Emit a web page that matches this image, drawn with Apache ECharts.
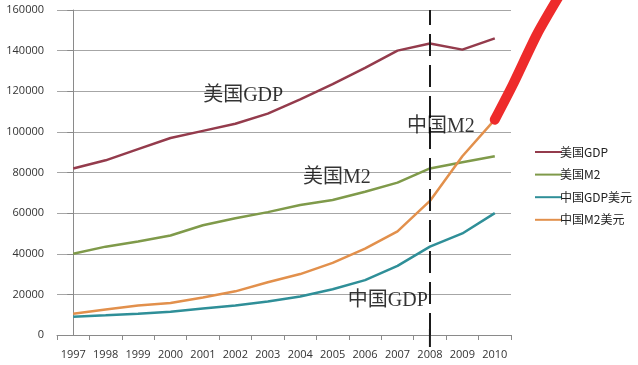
<!DOCTYPE html>
<html><head><meta charset="utf-8">
<script src="https://cdn.jsdelivr.net/npm/echarts@6/dist/echarts.min.js"></script>
<style>html,body{margin:0;padding:0;background:#fff}#c{width:638px;height:365px}</style>
</head><body><div id="c"></div>
<script>
const years = ['1997','1998','1999','2000','2001','2002','2003','2004','2005','2006','2007','2008','2009','2010'];
const usGDP = [82000,86000,91500,97000,100500,104000,109000,116000,123500,131500,140000,143500,140500,146000];
const usM2 = [40000,43500,46000,49000,54000,57500,60500,64000,66500,70500,75000,82000,85000,88000];
const cnGDP = [9000,9700,10500,11500,13000,14500,16500,19000,22500,27000,34000,43500,50000,60000];
const cnM2 = [10500,12500,14500,15800,18500,21500,26000,30000,35500,42500,51000,66000,88000,106000];
const seriesNames = ['美国GDP','美国M2','中国GDP美元','中国M2美元'];
const seriesColors = ['#943b4c','#7f9a4a','#2f8f98','#e2904c'];
const markYear = '2008';
// red brush stroke annotation, in (category index, value) data space
const redStroke = [[13,106000],[13.55,123000],[14.3,148000],[14.95,166000]];
// text annotations, in (category index, value) data space
const notes = [
  {name:'美国GDP', value:[5.24,118000]},
  {name:'美国M2', value:[8.13,77300]},
  {name:'中国M2', value:[11.34,102400]},
  {name:'中国GDP', value:[9.70,16700]}
];

const chart = echarts.init(document.getElementById('c'));
const values = [usGDP, usM2, cnGDP, cnM2];
const lineSeries = values.map((d, i) => ({
  name: seriesNames[i], type: 'line', data: d, symbol: 'none', smooth: false,
  lineStyle: {color: seriesColors[i], width: 2.5}, itemStyle: {color: seriesColors[i]},
  z: 3
}));
lineSeries[0].markLine = {
  silent: true, symbol: 'none', label: {show: false},
  lineStyle: {color: '#1a1a1a', width: 2, type: [22, 9]},
  data: [{xAxis: markYear}]
};
chart.setOption({
  backgroundColor: '#ffffff',
  animation: false,
  grid: {left: 57, right: 127, top: 10, bottom: 30},
  legend: {
    data: seriesNames, orient: 'vertical', left: 530, top: 140,
    itemWidth: 27, itemHeight: 2, itemGap: 8.6, icon: 'rect',
    textStyle: {fontSize: 12, color: '#222', fontFamily: 'Noto Sans CJK SC', lineHeight: 14, padding: [0,0,0,-7]}
  },
  xAxis: [{
    type: 'category', data: years, boundaryGap: true,
    axisLine: {lineStyle: {color: '#8a8a8a'}},
    axisTick: {show: true, lineStyle: {color: '#8a8a8a'}, length: 5},
    axisLabel: {color: '#333', fontSize: 11, fontFamily: 'Open Sans', margin: 14, interval: 0}
  }, {
    type: 'value', min: -0.5, max: 13.5, show: false
  }],
  yAxis: {
    type: 'value', min: 0, max: 160000, interval: 20000,
    axisLine: {show: true, lineStyle: {color: '#8a8a8a'}},
    axisTick: {show: true, lineStyle: {color: '#8a8a8a'}, length: 6},
    axisLabel: {color: '#333', fontSize: 11, fontFamily: 'Open Sans', margin: 13, formatter: v => String(v)},
    splitLine: {lineStyle: {color: '#a6a6a6', width: 1}}
  },
  series: lineSeries.concat([
    {
      type: 'scatter', xAxisIndex: 1, data: notes, symbolSize: 0, silent: true, z: 6,
      label: {show: true, position: 'inside', formatter: '{b}', fontSize: 20, color: '#000',
        fontFamily: "'Liberation Serif', 'Noto Sans CJK SC'"}
    }
  ])
});
// red brush stroke: project data-space points through the chart's own axes
const strokePts = redStroke.map(p => chart.convertToPixel({xAxisIndex: 1, yAxisIndex: 0}, p));
// extension of the 2008 marker a little below the x axis
const markX = chart.convertToPixel({xAxisIndex: 0}, markYear);
const baseY = chart.convertToPixel({yAxisIndex: 0}, 0);
chart.setOption({
  graphic: [{
    type: 'polyline', z: 100, silent: true,
    shape: {points: strokePts, smooth: 0.25},
    style: {stroke: '#ee2b2b', lineWidth: 10, lineCap: 'round', lineJoin: 'round', fill: null}
  }, {
    type: 'line', z: 100, silent: true,
    shape: {x1: markX, y1: baseY - 6, x2: markX, y2: baseY + 12},
    style: {stroke: '#1a1a1a', lineWidth: 2}
  }]
});
</script></body></html>
